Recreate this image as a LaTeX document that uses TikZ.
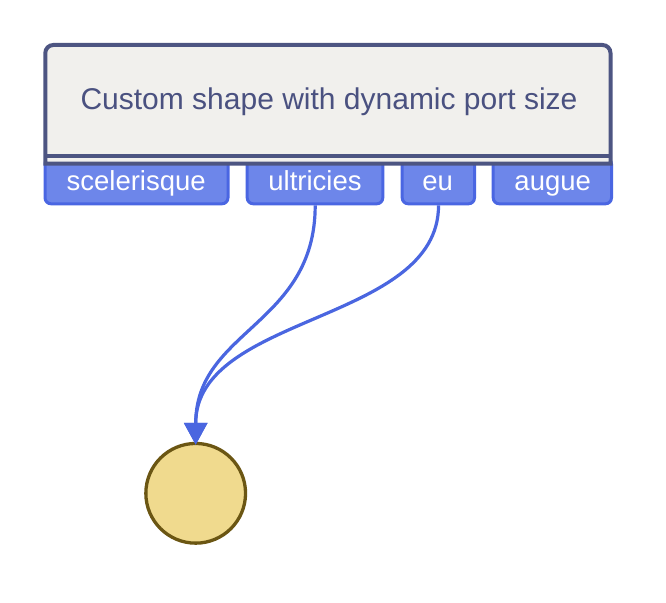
\documentclass[tikz,border=0pt]{standalone}
\usepackage{fontspec}
\setmainfont{Liberation Sans}
\usetikzlibrary{arrows.meta}
\definecolor{mainborder}{HTML}{4D5582}
\definecolor{mainfill}{HTML}{F1F0ED}
\definecolor{maintext}{HTML}{4A5180}
\definecolor{portfill}{HTML}{6D86EA}
\definecolor{portborder}{HTML}{4A66E2}
\definecolor{edgecol}{HTML}{4A66E0}
\definecolor{circfill}{HTML}{F0DA8E}
\definecolor{circborder}{HTML}{6B5613}
\tikzset{
  portst/.style={draw=portborder, fill=portfill, line width=3pt, rounded corners=6pt},
  portlabel/.style={text=white, font=\fontsize{27.5}{32}\selectfont, inner sep=0pt, anchor=base},
  edgest/.style={draw=edgecol, line width=3.2pt, -{Triangle[width=23pt,length=22pt]}},
}
\begin{document}
\begin{tikzpicture}[x=1pt,y=-1pt]
\useasboundingbox (0,0) rectangle (666,602);
% ports
\draw[portst] (45,158) rectangle (228,203.8);
\draw[portst] (247.2,158) rectangle (382.8,203.8);
\draw[portst] (402.2,158) rectangle (474.5,203.8);
\draw[portst] (493.2,158) rectangle (611.5,203.8);
\node[inner sep=0pt, minimum width=183pt, minimum height=40pt, anchor=south west] (p1) at (45,205.3) {};
\node[inner sep=0pt, minimum width=135.6pt, minimum height=40pt, anchor=south west] (p2) at (247.2,205.3) {};
\node[inner sep=0pt, minimum width=72.3pt, minimum height=40pt, anchor=south west] (p3) at (402.2,205.3) {};
\node[inner sep=0pt, minimum width=118.3pt, minimum height=40pt, anchor=south west] (p4) at (493.2,205.3) {};
\node[portlabel] (t1) at (136.2,190.7) {scelerisque};
\node[portlabel] (t2) at (315,190.7) {ultricies};
\node[portlabel] (t3) at (437.7,190.7) {eu};
\node[portlabel] (t4) at (552.7,190.7) {augue};
% main box
\coordinate (mbl) at (45.3,163.5);
\coordinate (mtl) at (45.3,45);
\coordinate (mtr) at (610.5,45);
\coordinate (mbr) at (610.5,163.5);
\filldraw[draw=mainborder, fill=mainfill, line width=4pt]
  (mbl) [rounded corners=8pt] -- (mtl) -- (mtr) [sharp corners] -- (mbr) -- cycle;
\coordinate (sl) at (45.3,156);
\coordinate (sr) at (610.5,156);
\draw[mainborder, line width=4pt] (sl) -- (sr);
\node[text=maintext, font=\fontsize{30}{36}\selectfont, inner sep=0pt, anchor=base] (title) at (329,109.3) {Custom shape with dynamic port size};
% circle
\node[circle, draw=circborder, fill=circfill, line width=3.3pt, minimum size=99.7pt, inner sep=0pt] (c) at (195.7,493.3) {};
% edges
\draw[edgest] (p2.south) .. controls +(0,120) and +(0,-115) .. ([yshift=-3pt]c.north);
\draw[edgest] (p3.south) .. controls +(0,118) and +(0,-131) .. ([yshift=-3pt]c.north);
\end{tikzpicture}
\end{document}
